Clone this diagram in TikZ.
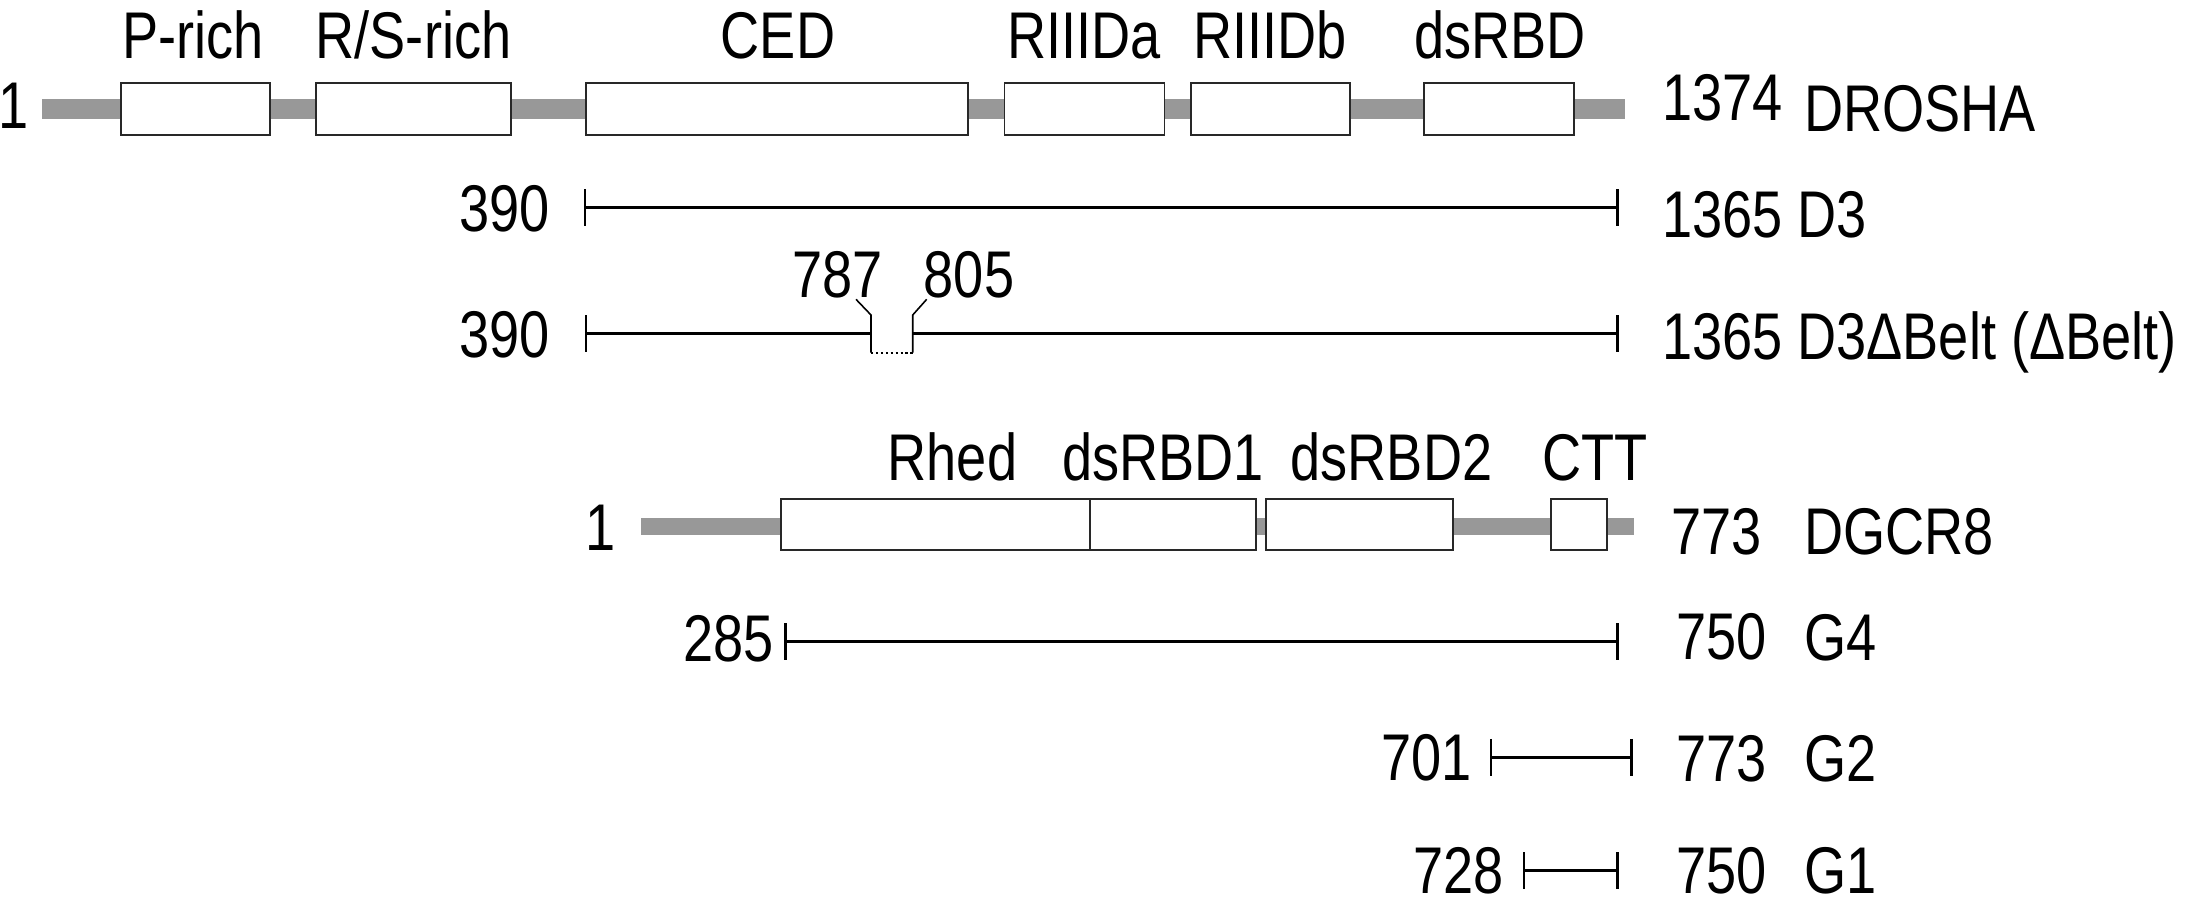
\documentclass[tikz,border=0pt]{standalone}
\usepackage{fontspec}
\setmainfont{Liberation Sans}[FakeStretch=0.82]
\usetikzlibrary{fit}
\definecolor{barg}{RGB}{152,152,152}
\definecolor{boxline}{RGB}{40,40,40}
\begin{document}
\begin{tikzpicture}[x=0.01cm,y=-0.01cm,
  lbl/.style={inner sep=0pt,outer sep=0pt,font=\fontsize{18.78}{22}\selectfont},
  dom/.style={draw=boxline,line width=0.55pt,fill=white,inner sep=0pt,outer sep=0pt},
  bar/.style={fill=barg,draw=none,inner sep=0pt,outer sep=0pt},
  ln/.style={line width=0.72pt,line cap=butt},
  thinln/.style={line width=0.45pt},
  dotln/.style={line width=0.45pt,dash pattern=on 0.7pt off 0.7pt},
  tick/.style={line width=0.72pt}
]
\useasboundingbox (0,0) rectangle (2200,902);

% ---------------- DROSHA ----------------
\node[bar, fit={(42.4,99.3)(1624.7,119)}] (drbar) {};
\node[dom, fit={(121.4,83.3)(270,135)}] (prich) {};
\node[dom, fit={(316,83.3)(511,135)}] (rsrich) {};
\node[dom, fit={(585.7,83.3)(968,135)}] (ced) {};
\node[dom, fit={(1004.5,83.3)(1164.5,135)}] (r3a) {};
\node[dom, fit={(1191,83.3)(1350,135)}] (r3b) {};
\node[dom, fit={(1424,83.3)(1574,135)}] (dsrbd) {};

\node[lbl,anchor=base] (lprich) at (193,58) {P-rich};
\node[lbl,anchor=base] (lrsrich) at (413.5,58) {R/S-rich};
\node[lbl,anchor=base] (lced) at (778,58) {CED};
\node[lbl,anchor=base] (lr3a) at (1084,58) {RIIIDa};
\node[lbl,anchor=base] (lr3b) at (1270,58) {RIIIDb};
\node[lbl,anchor=base] (ldsrbd) at (1500,58) {dsRBD};

\node[lbl,anchor=base west] (dstart) at (-1.5,128) {1};
\node[lbl,anchor=base west] (dend) at (1662,120) {1374};
\node[lbl,anchor=base west] (dname) at (1804,131) {DROSHA};

% ---------------- D3 ----------------
\coordinate (d3a) at (585,207.7);
\coordinate (d3b) at (1617.7,207.7);
\draw[ln] (d3a) -- (d3b);
\draw[tick] (d3a) ++(0,-18.5) -- ++(0,37);
\draw[tick] (d3b) ++(0,-18.5) -- ++(0,37);
\node[lbl,anchor=base east] (d3s) at (550,231.7) {390};
\node[lbl,anchor=base west] (d3e) at (1662,237) {1365 D3};

% ---------------- D3 Delta Belt ----------------
\coordinate (bta) at (586,333.5);
\coordinate (bl1) at (871,333.5);
\coordinate (bl2) at (912.7,333.5);
\coordinate (btb) at (1617.5,333.5);
\coordinate (k1top) at (856,299.3);
\coordinate (k1mid) at (871,315);
\coordinate (k1bot) at (871,352.7);
\coordinate (k2top) at (926.7,299.3);
\coordinate (k2mid) at (912.7,315);
\coordinate (k2bot) at (912.7,352.7);
\draw[ln] (bta) -- (bl1);
\draw[ln] (bl2) -- (btb);
\draw[tick] (bta) ++(0,-18.5) -- ++(0,37);
\draw[tick] (btb) ++(0,-18.5) -- ++(0,37);
\draw[thinln] (k1top) -- (k1mid) -- (k1bot);
\draw[thinln] (k2top) -- (k2mid) -- (k2bot);
\draw[dotln] (k1bot) -- (k2bot);
\node[lbl,anchor=base] (l787) at (837.5,297) {787};
\node[lbl,anchor=base] (l805) at (969,297) {805};
\node[lbl,anchor=base east] (bts) at (550,357) {390};
\node[lbl,anchor=base west] (bte) at (1662,359) {1365 D3ΔBelt (ΔBelt)};

% ---------------- DGCR8 ----------------
\node[bar, fit={(641,518.3)(1634,535)}] (dgbar) {};
\node[dom, fit={(780.7,499.3)(1090,550)}] (rhed) {};
\node[dom, fit={(1090,499.3)(1256,550)}] (dsrbdone) {};
\node[dom, fit={(1266,499.3)(1453.3,550)}] (dsrbdtwo) {};
\node[dom, fit={(1551,499.3)(1606.7,550)}] (ctt) {};

\node[lbl,anchor=base] (lrhed) at (952.5,480) {Rhed};
\node[lbl,anchor=base] (ldsrbdone) at (1163,480) {dsRBD1};
\node[lbl,anchor=base] (ldsrbdtwo) at (1391.5,480) {dsRBD2};
\node[lbl,anchor=base] (lctt) at (1595,480) {CTT};

\node[lbl,anchor=base west] (gstart) at (585,550) {1};
\node[lbl,anchor=base west] (gend) at (1671,554) {773};
\node[lbl,anchor=base west] (gname) at (1804,554) {DGCR8};

% ---------------- G4 ----------------
\coordinate (g4a) at (785.7,641.7);
\coordinate (g4b) at (1617.3,641.7);
\draw[ln] (g4a) -- (g4b);
\draw[tick] (g4a) ++(0,-18.5) -- ++(0,37);
\draw[tick] (g4b) ++(0,-18.5) -- ++(0,37);
\node[lbl,anchor=base east] (g4s) at (774,661.7) {285};
\node[lbl,anchor=base west] (g4e) at (1676,659.3) {750};
\node[lbl,anchor=base west] (g4n) at (1804,660) {G4};

% ---------------- G2 ----------------
\coordinate (g2a) at (1491,757.3);
\coordinate (g2b) at (1631.7,757.3);
\draw[ln] (g2a) -- (g2b);
\draw[tick] (g2a) ++(0,-18.5) -- ++(0,37);
\draw[tick] (g2b) ++(0,-18.5) -- ++(0,37);
\node[lbl,anchor=base east] (g2s) at (1471.6,780) {701};
\node[lbl,anchor=base west] (g2e) at (1676,781) {773};
\node[lbl,anchor=base west] (g2n) at (1804,781) {G2};

% ---------------- G1 ----------------
\coordinate (g1a) at (1524,870.7);
\coordinate (g1b) at (1617.3,870.7);
\draw[ln] (g1a) -- (g1b);
\draw[tick] (g1a) ++(0,-18.5) -- ++(0,37);
\draw[tick] (g1b) ++(0,-18.5) -- ++(0,37);
\node[lbl,anchor=base east] (g1s) at (1504,893.3) {728};
\node[lbl,anchor=base west] (g1e) at (1676,893) {750};
\node[lbl,anchor=base west] (g1n) at (1804,893) {G1};
\end{tikzpicture}
\end{document}
